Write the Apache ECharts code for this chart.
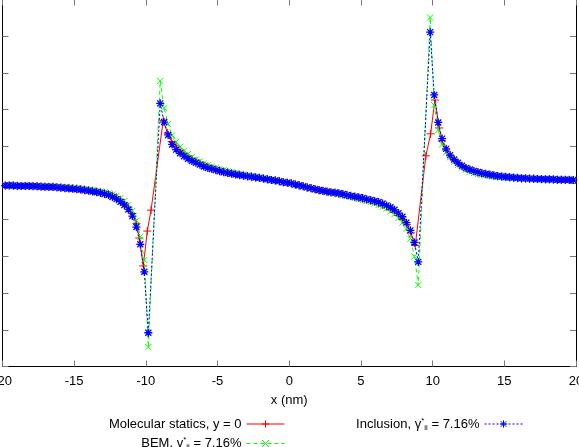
<!DOCTYPE html>
<html lang="en">
<head>
  <meta charset="UTF-8">
  <title>Strain profile along y = 0</title>
  <script src="https://cdn.jsdelivr.net/npm/echarts@6/dist/echarts.min.js"></script>
  <style>
    html, body { margin: 0; padding: 0; background: #ffffff; overflow: hidden; }
    #chart { width: 579px; height: 447px; }
  </style>
</head>
<body>
  <div id="chart"></div>
  <script>
    // x positions of the sampled atoms (nm)
    var xs = [
      -19.81, -19.53, -19.25, -18.97, -18.70, -18.42, -18.14, -17.87,
      -17.59, -17.31, -17.04, -16.76, -16.48, -16.20, -15.93, -15.65,
      -15.37, -15.10, -14.82, -14.54, -14.27, -13.99, -13.71, -13.43,
      -13.16, -12.88, -12.60, -12.33, -12.05, -11.77, -11.50, -11.22,
      -10.94, -10.66, -10.39, -10.11, -9.83, -9.56, -9.28, -9.00,
      -8.73, -8.45, -8.17, -7.89, -7.62, -7.34, -7.06, -6.79,
      -6.51, -6.23, -5.96, -5.68, -5.40, -5.12, -4.85, -4.57,
      -4.29, -4.02, -3.74, -3.46, -3.19, -2.91, -2.63, -2.35,
      -2.08, -1.80, -1.52, -1.25, -0.97, -0.69, -0.42, -0.14,
      0.14, 0.42, 0.69, 0.97, 1.25, 1.52, 1.80, 2.08,
      2.35, 2.63, 2.91, 3.19, 3.46, 3.74, 4.02, 4.29,
      4.57, 4.85, 5.12, 5.40, 5.68, 5.96, 6.23, 6.51,
      6.79, 7.06, 7.34, 7.62, 7.89, 8.17, 8.45, 8.73,
      9.00, 9.28, 9.56, 9.83, 10.11, 10.39, 10.66, 10.94,
      11.22, 11.50, 11.77, 12.05, 12.33, 12.60, 12.88, 13.16,
      13.43, 13.71, 13.99, 14.27, 14.54, 14.82, 15.10, 15.37,
      15.65, 15.93, 16.20, 16.48, 16.76, 17.04, 17.31, 17.59,
      17.87, 18.14, 18.42, 18.70, 18.97, 19.25, 19.53, 19.81
    ];

    // Molecular statics, y = 0 (null where the atom sits elsewhere near the cores)
    var msY = [
      -0.07, -0.07, -0.07, -0.07, -0.08, -0.08, -0.08, -0.08,
      -0.09, -0.09, -0.10, -0.10, -0.10, -0.11, -0.12, -0.13,
      -0.13, -0.14, -0.15, -0.17, -0.18, -0.19, -0.21, -0.23,
      -0.25, -0.27, -0.30, -0.34, -0.39, -0.46, -0.54, -0.66,
      -0.83, -1.10, null, null, null, null, null, null,
      null, null, null, 1.01, 0.90, 0.81, 0.72, 0.66,
      0.60, 0.54, 0.49, 0.45, 0.41, 0.38, 0.35, 0.32,
      0.30, 0.27, 0.25, 0.23, 0.21, 0.19, 0.18, 0.16,
      0.14, 0.12, 0.10, 0.08, 0.07, 0.05, 0.02, 0.01,
      -0.01, -0.04, -0.07, -0.09, -0.12, -0.14, -0.17, -0.20,
      -0.22, -0.24, -0.26, -0.28, -0.30, -0.32, -0.34, -0.36,
      -0.39, -0.41, -0.44, -0.46, -0.49, -0.52, -0.56, -0.60,
      -0.65, -0.71, -0.79, -0.88, -1.00, null, null, null,
      null, null, null, null, null, null, 1.15, 0.90,
      0.74, 0.62, 0.53, 0.45, 0.40, 0.35, 0.31, 0.27,
      0.25, 0.23, 0.21, 0.19, 0.18, 0.17, 0.16, 0.15,
      0.14, 0.13, 0.12, 0.12, 0.11, 0.11, 0.11, 0.10,
      0.10, 0.10, 0.09, 0.09, 0.09, 0.08, 0.08, 0.08
    ];
    // displaced atoms close to the two cores
    var msCoreX = [-10.46, -10.18, -9.90, -9.64, -8.79, -8.48, -8.20, 8.20, 8.48, 8.79, 9.53, 9.86, 10.16, 10.46];
    var msCoreY = [-1.50, -2.26, -1.31, -0.74, 1.70, 1.36, 1.13, -1.13, -1.36, -1.70, 0.74, 1.34, 2.26, 1.50];

    // BEM
    var bemY = [
      -0.06, -0.06, -0.06, -0.07, -0.07, -0.07, -0.07, -0.08,
      -0.08, -0.09, -0.09, -0.09, -0.09, -0.10, -0.11, -0.11,
      -0.12, -0.13, -0.14, -0.15, -0.16, -0.18, -0.19, -0.21,
      -0.23, -0.25, -0.28, -0.31, -0.35, -0.41, -0.49, -0.60,
      -0.76, -1.02, -1.46, -2.10, -4.47, null, null, 2.78,
      2.04, 1.61, 1.30, 1.12, 0.99, 0.88, 0.79, 0.71,
      0.64, 0.59, 0.53, 0.49, 0.45, 0.41, 0.38, 0.35,
      0.32, 0.30, 0.27, 0.25, 0.23, 0.21, 0.19, 0.17,
      0.15, 0.13, 0.11, 0.09, 0.07, 0.05, 0.02, 0.00,
      -0.02, -0.04, -0.07, -0.10, -0.12, -0.15, -0.18, -0.20,
      -0.23, -0.25, -0.27, -0.29, -0.31, -0.34, -0.36, -0.38,
      -0.41, -0.44, -0.47, -0.49, -0.52, -0.56, -0.60, -0.65,
      -0.70, -0.77, -0.85, -0.95, -1.08, -1.25, -1.52, -2.00,
      -2.78, null, null, 4.51, 2.12, 1.44, 1.05, 0.84,
      0.70, 0.58, 0.49, 0.42, 0.36, 0.31, 0.27, 0.24,
      0.22, 0.20, 0.18, 0.17, 0.16, 0.15, 0.14, 0.13,
      0.13, 0.12, 0.12, 0.11, 0.11, 0.10, 0.10, 0.10,
      0.09, 0.09, 0.09, 0.09, 0.08, 0.08, 0.08, 0.08
    ];

    // Inclusion model
    var inclY = [
      -0.07, -0.07, -0.07, -0.08, -0.08, -0.08, -0.08, -0.09,
      -0.09, -0.10, -0.10, -0.11, -0.11, -0.12, -0.13, -0.14,
      -0.15, -0.16, -0.17, -0.18, -0.20, -0.21, -0.23, -0.25,
      -0.27, -0.30, -0.33, -0.38, -0.44, -0.51, -0.60, -0.72,
      -0.90, -1.20, -1.67, -2.42, -4.08, null, null, 2.17,
      1.66, 1.31, 1.05, 0.91, 0.81, 0.73, 0.66, 0.60,
      0.55, 0.50, 0.45, 0.41, 0.38, 0.35, 0.32, 0.29,
      0.27, 0.25, 0.23, 0.21, 0.20, 0.18, 0.17, 0.15,
      0.14, 0.12, 0.10, 0.08, 0.07, 0.05, 0.02, 0.01,
      -0.01, -0.04, -0.06, -0.09, -0.12, -0.14, -0.17, -0.19,
      -0.21, -0.23, -0.25, -0.26, -0.28, -0.30, -0.33, -0.35,
      -0.37, -0.39, -0.41, -0.44, -0.46, -0.49, -0.52, -0.56,
      -0.61, -0.66, -0.73, -0.82, -0.92, -1.08, -1.29, -1.62,
      -2.15, null, null, 4.11, 2.40, 1.65, 1.21, 0.93,
      0.76, 0.64, 0.55, 0.47, 0.41, 0.37, 0.33, 0.30,
      0.27, 0.25, 0.23, 0.21, 0.19, 0.18, 0.17, 0.16,
      0.15, 0.14, 0.13, 0.13, 0.12, 0.12, 0.11, 0.11,
      0.10, 0.10, 0.10, 0.09, 0.09, 0.09, 0.09, 0.08
    ];

    var xTicks = { min: -20, max: 20, step: 5 };
    var yTicks = { min: -5, max: 5, step: 1 };

    var FONT = '"Liberation Sans", Arial, sans-serif';
    var PLUS = 'path://M0,-1L0,1M-1,0L1,0';
    var CROSS = 'path://M-1,-1L1,1M-1,1L1,-1';
    var STAR = 'path://M0,-1L0,1M-1,0L1,0M-0.75,-0.75L0.75,0.75M-0.75,0.75L0.75,-0.75';

    function pairs(ys) {
      return xs.map(function (x, i) { return [x, ys[i]]; })
               .filter(function (p) { return p[1] !== null; });
    }

    var msData = pairs(msY)
      .concat(msCoreX.map(function (x, i) { return [x, msCoreY[i]]; }))
      .sort(function (a, b) { return a[0] - b[0]; });

    var chart = echarts.init(document.getElementById('chart'), null, { renderer: 'canvas' });

    var tickStyle = { inside: true, length: 6, lineStyle: { color: '#777', width: 1 } };
    var frameLine = { show: true, onZero: false, lineStyle: { color: '#000', width: 1 } };

    // one key entry per legend box, text on the left of the sample as gnuplot does
    function legendBox(name, right, top, color, dash, fmt) {
      return {
        data: [name],
        right: right,
        top: top,
        align: 'right',
        orient: 'horizontal',
        padding: 0,
        itemWidth: 38,
        itemHeight: 9,
        selectedMode: false,
        formatter: fmt,
        lineStyle: { color: color, width: 1, type: dash },
        itemStyle: { color: color, borderColor: color, borderWidth: 1 },
        textStyle: {
          color: '#000', fontSize: 13, fontFamily: FONT, lineHeight: 15,
          rich: {
            n: { fontSize: 13, fontFamily: FONT, color: '#000', lineHeight: 15 },
            sup: { fontSize: 8, fontFamily: FONT, color: '#000', verticalAlign: 'top', lineHeight: 15 },
            sub: { fontSize: 8, fontFamily: FONT, color: '#000', verticalAlign: 'bottom', lineHeight: 15 }
          }
        }
      };
    }

    var option = {
      animation: false,
      backgroundColor: '#ffffff',
      grid: {
        left: 2.5, right: 3, top: -0.5, height: 367,
        containLabel: false, outerBoundsMode: 'none'
      },
      legend: [
        legendBox('Molecular statics, y = 0', 294, 416.5, '#ff0000', 'solid', null),
        legendBox('Inclusion', 56, 416.5, '#0000ff', [2, 2], function () {
          return '{n|Inclusion, \u03b3}{sup|*}{sub|ii}{n| = 7.16%}';
        }),
        legendBox('BEM', 294, 436, '#00ff00', [4, 3], function () {
          return '{n|BEM, \u03b3}{sup|*}{sub|ii}{n| = 7.16%}';
        })
      ],
      xAxis: [
        {
          type: 'value', position: 'bottom',
          min: xTicks.min, max: xTicks.max, interval: xTicks.step,
          name: 'x (nm)', nameLocation: 'middle', nameGap: 27,
          nameTextStyle: { color: '#000', fontSize: 13, fontFamily: FONT },
          axisLine: frameLine, axisTick: tickStyle, splitLine: { show: false },
          axisLabel: {
            color: '#000', fontSize: 13, fontFamily: FONT, margin: 8,
            showMinLabel: true, showMaxLabel: true, hideOverlap: false
          }
        },
        {
          type: 'value', position: 'top',
          min: xTicks.min, max: xTicks.max, interval: xTicks.step,
          axisLine: frameLine, axisTick: tickStyle, splitLine: { show: false },
          axisLabel: { show: false }
        }
      ],
      yAxis: [
        {
          type: 'value', position: 'left',
          min: yTicks.min, max: yTicks.max, interval: yTicks.step,
          axisLine: frameLine, axisTick: tickStyle, splitLine: { show: false },
          axisLabel: { show: false }
        },
        {
          type: 'value', position: 'right',
          min: yTicks.min, max: yTicks.max, interval: yTicks.step,
          axisLine: frameLine, axisTick: tickStyle, splitLine: { show: false },
          axisLabel: { show: false }
        }
      ],
      series: [
        {
          name: 'Molecular statics, y = 0',
          type: 'line',
          data: msData,
          symbol: PLUS,
          symbolSize: 8,
          itemStyle: { color: '#ff0000', borderColor: '#ff0000', borderWidth: 1 },
          lineStyle: { color: '#ff0000', width: 1, type: 'solid' },
          emphasis: { disabled: true },
          z: 2
        },
        {
          name: 'BEM',
          type: 'line',
          data: pairs(bemY),
          symbol: CROSS,
          symbolSize: 6,
          itemStyle: { color: '#00ff00', borderColor: '#00ff00', borderWidth: 1 },
          lineStyle: { color: '#00ff00', width: 1, type: [4, 3] },
          emphasis: { disabled: true },
          z: 3
        },
        {
          name: 'Inclusion',
          type: 'line',
          data: pairs(inclY),
          symbol: STAR,
          symbolSize: 8,
          itemStyle: { color: '#0000ff', borderColor: '#0000ff', borderWidth: 1.3 },
          lineStyle: { color: '#0000ff', width: 1, type: [2, 2] },
          emphasis: { disabled: true },
          z: 4
        }
      ]
    };

    chart.setOption(option);

    window.addEventListener('resize', function () {
      chart.resize();
    });
  </script>
</body>
</html>
